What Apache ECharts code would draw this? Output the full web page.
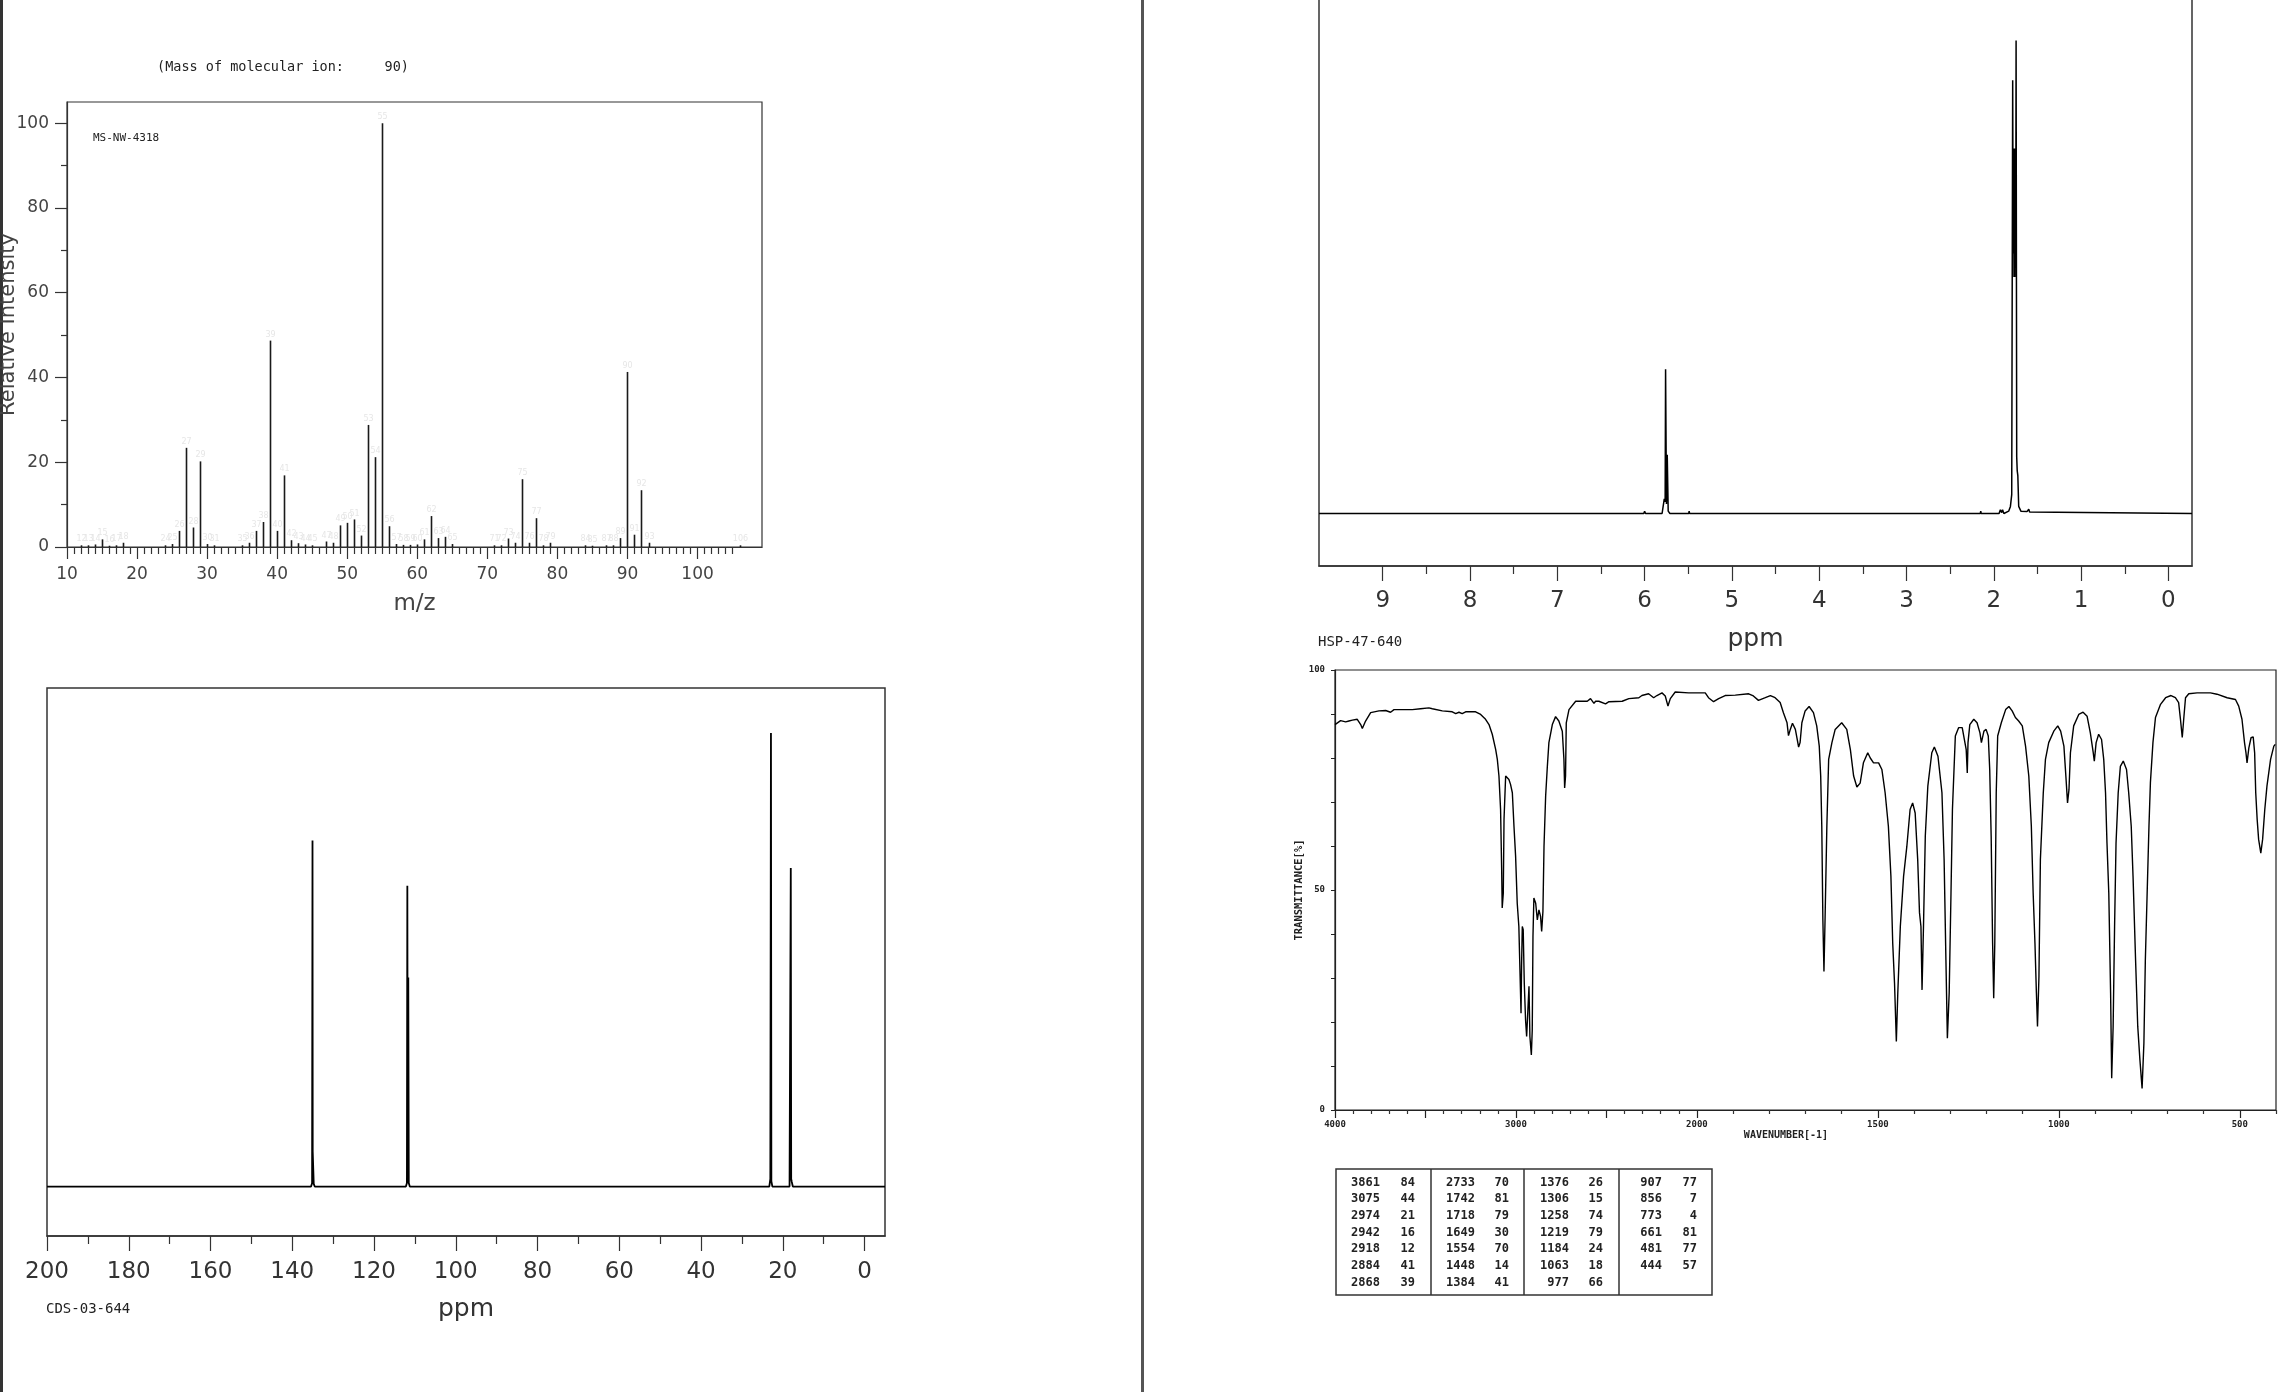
<!DOCTYPE html>
<html><head><meta charset="utf-8">
<script src="https://cdn.jsdelivr.net/npm/echarts@6/dist/echarts.min.js"></script>
<style>html,body{margin:0;padding:0;background:#fff;}#c{width:2281px;height:1392px;}</style>
</head><body><div id="c"></div>
<script>
// ---------------- DATA ----------------
const molecularIon = 90;
// Mass spectrum (m/z, relative intensity)
const msMz  = [12,13,14,15,16,17,18,24,25,26,27,28,29,30,31,35,36,37,38,39,40,41,42,43,44,45,47,48,49,50,51,52,53,54,55,56,57,58,59,60,61,62,63,64,65,71,72,73,74,75,76,77,78,79,84,85,87,88,89,90,91,92,93,106];
const msInt = [0.4,0.4,0.6,1.8,0.3,0.4,1.0,0.4,0.7,3.8,23.4,4.6,20.2,0.7,0.4,0.4,1.0,3.8,5.9,48.7,3.8,16.9,1.6,0.9,0.6,0.4,1.3,1.0,5.1,5.7,6.5,2.7,28.8,21.2,100,4.9,0.7,0.5,0.5,0.6,1.8,7.3,2.1,2.4,0.7,0.4,0.4,2.0,1.0,16.0,1.0,6.8,0.4,1.0,0.4,0.3,0.4,0.4,2.1,41.3,2.9,13.4,1.0,0.4];
const msXTickLabels = [10,20,30,40,50,60,70,80,90,100];
const msYTickLabels = [0,20,40,60,80,100];

// 13C NMR trace (ppm, intensity)
const c13Ppm = [200,135.4,135.15,135.05,135.0,134.95,134.75,134.5,112.2,111.95,111.85,111.75,111.62,111.5,111.25,23.3,23.05,22.9,22.8,22.55,18.35,18.05,17.95,17.8,17.55,-5];
const c13Int = [0,0,0.8,76.3,7.7,7.7,0.6,0,0,0.8,66.3,0.8,46.1,0.8,0,0,1.7,100,1.2,0,0,70.2,1.7,1.0,0,0];
const c13TickLabels = [200,180,160,140,120,100,80,60,40,20,0];

// 1H NMR trace (ppm, intensity)
const h1Ppm = [9.73,6.01,6.0,5.99,5.80,5.79,5.775,5.765,5.76,5.75,5.741,5.73,5.71,5.495,5.49,5.485,2.155,2.15,2.145,1.94,1.925,1.91,1.9,1.885,1.83,1.81,1.795,1.784,1.779,1.774,1.769,1.764,1.759,1.754,1.749,1.745,1.738,1.732,1.725,1.715,1.69,1.62,1.6,1.59,1.57,-0.27];
const h1Int = [0,0,0.5,0,0,0.4,3.1,2.5,30.5,2.0,12.4,0.5,0,0,0.5,0,0,0.5,0,0,0.8,0.2,0.8,0,0.5,1.5,4.0,91.6,55,77.2,50,77.2,50,77.2,55,100,12,9,8.0,1.5,0.5,0.4,0.9,0.3,0,0];
const h1TickLabels = [9,8,7,6,5,4,3,2,1,0];

// IR trace (wavenumber cm-1, transmittance %)
const irWn = [4000,3969,3941,3923,3904,3877,3858,3849,3831,3803,3757,3720,3693,3674,3573,3527,3481,3462,3407,3352,3333,3315,3297,3278,3223,3195,3168,3149,3131,3112,3103,3094,3085,3079,3076,3070,3066,3057,3048,3039,3030,3020,3011,3002,2993,2984,2978,2972,2969,2965,2960,2954,2947,2941,2934,2928,2923,2915,2910,2906,2901,2891,2882,2873,2864,2858,2851,2845,2836,2827,2818,2799,2781,2763,2744,2735,2731,2726,2722,2707,2670,2634,2606,2588,2569,2560,2542,2505,2486,2413,2376,2321,
 2304,2267,2239,2221,2193,2175,2160,2147,2120,2046,1977,1968,1954,1940,1922,1894,1857,1844,1830,1811,1797,1784,1770,1761,1751,1747,1742,1736,1728,1719,1715,1710,1701,1690,1678,1669,1662,1658,1655,1652,1649,1646,1641,1636,1627,1618,1600,1586,1576,1567,1558,1549,1540,1528,1521,1512,1498,1489,1480,1471,1464,1459,1454,1449,1445,1438,1429,1420,1411,1404,1397,1390,1385,1381,1378,1374,1369,1362,1351,1344,1334,1323,1317,1312,1308,1303,1298,1294,1286,1277,
 1267,1261,1256,1253,1251,1246,1235,1226,1218,1214,1207,1201,1195,1191,1187,1183,1180,1177,1173,1169,1159,1147,1138,1129,1120,1111,1101,1092,1083,1076,1071,1066,1062,1059,1055,1051,1043,1037,1028,1014,1003,995,986,980,976,972,968,959,945,933,922,913,905,902,897,890,882,876,871,867,862,857,854,850,846,842,836,830,822,813,807,800,795,788,782,776,770,765,761,756,751,747,740,733,719,705,690,678,669,664,659,655,650,641,618,581,563,535,512,503,494,487,483,480,475,469,463,459,456,452,448,442,437,431,425,415,406,402];
const irT = [87.6,88.5,88.2,88.4,88.6,88.8,87.6,86.7,88.4,90.3,90.7,90.8,90.4,91.0,91.0,91.2,91.4,91.2,90.7,90.5,90.1,90.4,90.1,90.5,90.5,89.9,88.8,87.6,85.4,81.9,79.7,75.9,68.3,54.6,45.9,49.3,66.0,75.9,76.3,75.1,74.0,72.1,64.5,57.7,47.0,41.7,31.9,22.0,32.6,41.7,41.0,28.8,20.5,16.7,22.8,28.1,16.7,12.5,18.2,39.5,48.2,47.0,43.2,45.5,44.0,40.6,45.1,59.9,71.3,77.8,83.5,87.6,89.4,88.4,86.1,79.7,73.2,75.9,88.0,91.0,92.9,92.9,92.9,93.5,92.4,92.9,92.9,92.3,92.8,92.9,93.5,93.7,
 94.2,94.6,93.7,94.2,94.8,94.1,91.8,93.5,95.0,94.8,94.8,93.7,92.8,93.5,94.2,94.3,94.6,94.1,93.1,93.7,94.2,93.7,92.6,90.3,88.0,85.1,86.5,87.9,86.5,82.5,83.5,88.0,90.7,91.7,90.3,87.3,82.7,75.9,64.5,43.2,31.5,43.2,64.5,79.7,83.5,86.5,88.0,86.5,81.9,75.9,73.4,74.3,78.9,81.2,80.0,78.9,78.9,77.4,72.1,64.5,53.1,37.9,28.8,15.6,26.6,41.7,53.1,59.9,68.3,69.8,67.5,56.9,44.8,41.7,27.3,41.7,62.2,73.6,81.2,82.5,80.4,72.1,56.9,34.1,16.3,26.6,49.3,68.3,85.0,86.9,
 86.9,84.2,81.9,76.6,83.5,87.6,88.8,88.0,85.7,83.5,86.1,86.5,85.0,77.4,62.2,37.9,25.4,37.9,72.1,85.0,88.0,91.0,91.7,90.7,89.2,88.4,87.3,82.7,75.9,64.5,49.3,37.9,26.6,19.0,30.3,56.9,72.1,79.7,83.5,86.1,87.3,86.1,82.7,75.1,69.8,72.8,81.2,87.3,89.9,90.4,89.5,85.7,81.2,79.3,83.5,85.4,84.2,79.7,72.1,60.7,49.3,26.6,7.2,19.0,41.7,60.7,72.1,78.1,79.3,77.4,72.1,64.5,53.1,34.1,19.0,11.4,4.9,15.2,34.1,49.3,64.5,74.4,83.5,89.2,92.2,93.7,94.2,93.7,92.6,88.8,84.7,88.8,93.7,94.6,94.8,94.8,94.5,93.7,93.3,91.8,88.8,83.5,81.2,78.9,82.3,84.6,84.8,81.2,72.1,66.0,61.5,58.4,61.5,68.3,73.6,79.7,82.7,83.1];
const irXTickLabels = [4000,3000,2000,1500,1000,500];
const irYTickLabels = [0,50,100];

// IR peak table
const irTableWn = [3861,3075,2974,2942,2918,2884,2868,2733,1742,1718,1649,1554,1448,1384,1376,1306,1258,1219,1184,1063,977,907,856,773,661,481,444];
const irTableT  = [84,44,21,16,12,41,39,70,81,79,30,70,14,41,26,15,74,79,24,18,66,77,7,4,81,77,57];

// ---------------- HELPERS ----------------
// IR abscissa: 2x expanded scale below 2000 cm-1
function irPos(w){ return w >= 2000 ? 4000 - w : 2000 + 2 * (2000 - w); }
function irWnOf(p){ return p <= 2000 ? 4000 - p : 2000 - (p - 2000) / 2; }
function zip(a, b){ return a.map((v, i) => [v, b[i]]); }

const msMinor = []; for (let v = 11; v <= 105; v++) if (v % 10) msMinor.push(v);
const msYMinor = [10,30,50,70,90];
const c13Minor = []; for (let v = 190; v > 0; v -= 20) c13Minor.push(v);
const h1Minor = []; for (let v = 8.5; v > 0; v -= 1) h1Minor.push(v);
const irMajorTicks = [4000,3500,3000,2500,2000,1500,1000,500].map(irPos);
const irMinorTicks = []; for (let w = 3900; w >= 400; w -= 100) { const p = irPos(w); if (irMajorTicks.indexOf(p) < 0) irMinorTicks.push(p); }
const irYTicks = []; for (let v = 0; v <= 100; v += 10) irYTicks.push(v);

const SANS = 'DejaVu Sans';
const MONO = 'DejaVu Sans Mono';
const AX = '#333';

function minorX(grid, min, max, inverse, ticks, len){
  return {type:'value', gridIndex:grid, min:min, max:max, inverse:inverse, position:'bottom',
    axisLine:{show:false, onZero:false}, splitLine:{show:false}, axisLabel:{show:false},
    axisTick:{show:true, customValues:ticks, length:len, lineStyle:{color:AX, width:1.2}}};
}

// ---------------- TABLE GRAPHICS ----------------
const tbl = {x:1336, y:1169, w:376, h:126, seps:[1431,1524,1619], numR:[1380,1475,1569,1662], valR:[1415,1509,1603,1697], row0:1182.5, step:16.7};
const graphics = [
  {type:'rect', shape:{x:0,y:0,width:3,height:1392}, style:{fill:'#333'}},
  {type:'rect', shape:{x:1141,y:0,width:3,height:1392}, style:{fill:'#555'}},
  {type:'text', x:157, y:67, style:{text:'(Mass of molecular ion:     ' + molecularIon + ')', font:'13.5px "' + MONO + '"', fill:'#222', verticalAlign:'middle'}},
  {type:'text', x:93, y:138, style:{text:'MS-NW-4318', font:'11px "' + MONO + '"', fill:'#222', verticalAlign:'middle'}},
  {type:'text', x:46, y:1309, style:{text:'CDS-03-644', font:'14px "' + MONO + '"', fill:'#222', verticalAlign:'middle'}},
  {type:'text', x:1318, y:642, style:{text:'HSP-47-640', font:'14px "' + MONO + '"', fill:'#222', verticalAlign:'middle'}},
  {type:'rect', shape:{x:tbl.x, y:tbl.y, width:tbl.w, height:tbl.h}, style:{fill:'none', stroke:'#333', lineWidth:1.5}}
];
tbl.seps.forEach(sx => graphics.push({type:'line', shape:{x1:sx, y1:tbl.y, x2:sx, y2:tbl.y + tbl.h}, style:{stroke:'#333', lineWidth:1.5}}));
irTableWn.forEach((w, i) => {
  const col = Math.floor(i / 7), row = i % 7, y = tbl.row0 + row * tbl.step;
  graphics.push({type:'text', x:tbl.numR[col], y:y, style:{text:String(w), font:'bold 12px "' + MONO + '"', fill:'#222', align:'right', verticalAlign:'middle'}});
  graphics.push({type:'text', x:tbl.valR[col], y:y, style:{text:String(irTableT[i]), font:'bold 12px "' + MONO + '"', fill:'#222', align:'right', verticalAlign:'middle'}});
});

// ---------------- CHART ----------------
const chart = echarts.init(document.getElementById('c'), null, {renderer:'canvas', width:2281, height:1392});
const G = {show:true, containLabel:false, outerBoundsMode:'none'};
const option = {
  animation:false,
  backgroundColor:'#fff',
  grid:[
    Object.assign({left:67, top:102, width:695, height:445, borderColor:AX, borderWidth:1.2}, G),
    Object.assign({left:47, top:688, width:838, height:548, borderColor:AX, borderWidth:1.5}, G),
    Object.assign({left:1319, top:-10, width:873, height:576, borderColor:AX, borderWidth:1.5}, G),
    Object.assign({left:1335, top:670, width:941, height:440, borderColor:'#222', borderWidth:1.2}, G)
  ],
  xAxis:[
    {type:'value', gridIndex:0, min:10, max:109.2, position:'bottom',
      axisLine:{onZero:false, lineStyle:{color:AX, width:1.2}}, splitLine:{show:false},
      axisTick:{customValues:msXTickLabels, length:12, lineStyle:{color:AX, width:1.2}},
      axisLabel:{customValues:msXTickLabels, fontFamily:SANS, fontSize:17, color:'#444', margin:19},
      name:'m/z', nameLocation:'middle', nameGap:46, nameTextStyle:{fontFamily:SANS, fontSize:23, color:'#444'}},
    minorX(0, 10, 109.2, false, msMinor, 7),
    {type:'value', gridIndex:1, min:-5, max:200, inverse:true, position:'bottom',
      axisLine:{onZero:false, lineStyle:{color:AX, width:1.5}}, splitLine:{show:false},
      axisTick:{customValues:c13TickLabels, length:15, lineStyle:{color:AX, width:1.2}},
      axisLabel:{customValues:c13TickLabels, fontFamily:SANS, fontSize:23, color:'#333', margin:25},
      name:'ppm', nameLocation:'middle', nameGap:61, nameTextStyle:{fontFamily:SANS, fontSize:25, color:'#333'}},
    minorX(1, -5, 200, true, c13Minor, 8),
    {type:'value', gridIndex:2, min:-0.27, max:9.73, inverse:true, position:'bottom',
      axisLine:{onZero:false, lineStyle:{color:AX, width:1.5}}, splitLine:{show:false},
      axisTick:{customValues:h1TickLabels, length:15, lineStyle:{color:AX, width:1.2}},
      axisLabel:{customValues:h1TickLabels, fontFamily:SANS, fontSize:23, color:'#333', margin:24},
      name:'ppm', nameLocation:'middle', nameGap:61, nameTextStyle:{fontFamily:SANS, fontSize:25, color:'#333'}},
    minorX(2, -0.27, 9.73, true, h1Minor, 8),
    {type:'value', gridIndex:3, min:0, max:5200, position:'bottom',
      axisLine:{onZero:false, lineStyle:{color:'#222', width:1.2}}, splitLine:{show:false},
      axisTick:{customValues:irMajorTicks, length:8, lineStyle:{color:'#222', width:1.2}},
      axisLabel:{customValues:irXTickLabels.map(irPos), formatter:(v) => String(Math.round(irWnOf(v))), fontFamily:MONO, fontWeight:'bold', fontSize:9, color:'#222', margin:10},
      name:'WAVENUMBER[-1]', nameLocation:'middle', nameGap:20, nameTextStyle:{fontFamily:MONO, fontWeight:'bold', fontSize:10, color:'#222', padding:[0,39,0,0]}},
    minorX(3, 0, 5200, false, irMinorTicks, 4)
  ],
  yAxis:[
    {type:'value', gridIndex:0, min:0, max:105, position:'left',
      axisLine:{show:true, onZero:false, lineStyle:{color:AX, width:1.2}}, splitLine:{show:false},
      axisTick:{show:true, customValues:msYTickLabels, length:12, lineStyle:{color:AX, width:1.2}},
      axisLabel:{customValues:msYTickLabels, fontFamily:SANS, fontSize:17, color:'#444', margin:18},
      name:'Relative Intensity', nameLocation:'middle', nameRotate:90, nameGap:48, nameMoveOverlap:false,
      nameTextStyle:{fontFamily:SANS, fontSize:21, color:'#444'}},
    {type:'value', gridIndex:0, min:0, max:105, position:'left',
      axisLine:{show:false, onZero:false}, splitLine:{show:false}, axisLabel:{show:false},
      axisTick:{show:true, customValues:msYMinor, length:6, lineStyle:{color:AX, width:1.2}}},
    {type:'value', gridIndex:1, min:-10.9, max:109.9, show:false},
    {type:'value', gridIndex:2, min:-11.1, max:110.7, show:false},
    {type:'value', gridIndex:3, min:0, max:100, position:'left',
      axisLine:{show:true, onZero:false, lineStyle:{color:'#222', width:1.2}}, splitLine:{show:false},
      axisTick:{show:true, customValues:irYTicks, length:4, lineStyle:{color:'#222', width:1}},
      axisLabel:{customValues:irYTickLabels, fontFamily:MONO, fontWeight:'bold', fontSize:9, color:'#222', margin:10},
      name:'TRANSMITTANCE[%]', nameLocation:'middle', nameRotate:90, nameGap:28, nameTextStyle:{fontFamily:MONO, fontWeight:'bold', fontSize:10.5, color:'#222'}}
  ],
  series:[
    {type:'custom', xAxisIndex:0, yAxisIndex:0, clip:true, data:zip(msMz, msInt),
      renderItem:(params, api) => {
        const x = api.value(0), y = api.value(1);
        const p0 = api.coord([x, 0]), p1 = api.coord([x, y]);
        const cx = Math.round(p0[0]) + 0.5;
        return {type:'group', children:[
          {type:'line', shape:{x1:cx, y1:p0[1], x2:cx, y2:p1[1]}, style:{stroke:'#1a1a1a', lineWidth:1.6}},
          {type:'text', x:cx, y:p1[1] - 2, style:{text:String(x), fill:'#e6e6e6', font:'8px "' + SANS + '"', align:'center', verticalAlign:'bottom'}}
        ]};
      }},
    {type:'line', xAxisIndex:2, yAxisIndex:2, data:zip(c13Ppm, c13Int), showSymbol:false, symbol:'none',
      lineStyle:{color:'#000', width:1.8}, z:3},
    {type:'line', xAxisIndex:4, yAxisIndex:3, data:zip(h1Ppm, h1Int), showSymbol:false, symbol:'none',
      lineStyle:{color:'#000', width:1.5}, z:3},
    {type:'line', xAxisIndex:6, yAxisIndex:4, data:irWn.map((w, i) => [irPos(w), irT[i]]), showSymbol:false, symbol:'none',
      lineStyle:{color:'#000', width:1.4}, z:3}
  ],
  graphic:graphics
};
chart.setOption(option);
</script>
</body></html>
